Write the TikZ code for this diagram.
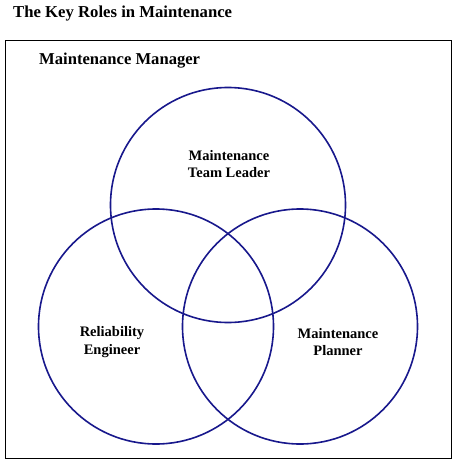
\documentclass[tikz,border=0pt]{standalone}
\usepackage{fontspec}
\setmainfont{Liberation Serif}
\begin{document}
\begin{tikzpicture}[x=1pt,y=-1pt,
  venn/.style={draw={rgb,255:red,24;green,24;blue,140},line width=1.6pt},
  lbl/.style={font=\fontsize{14.5}{17.5}\selectfont\bfseries,align=center,inner sep=0pt}]
\useasboundingbox (0,0) rectangle (456,466);
\fill[white] (0,0) rectangle (456,466);
\node[anchor=west,inner sep=0pt,font=\fontsize{16.7}{19}\selectfont\bfseries] (title) at (13,14) {The Key Roles in Maintenance};
\draw[line width=0.9pt] (5.5,40.5) rectangle (451,458);
\node[anchor=west,inner sep=0pt,font=\fontsize{16.6}{19}\selectfont\bfseries] (mgr) at (39,61) {Maintenance Manager};
\draw[venn] (228,205) circle (117.5);
\draw[venn] (156,326.5) circle (117.5);
\draw[venn] (300,326.5) circle (117.5);
\node[lbl] (tl) at (229,164) {Maintenance\\Team Leader};
\node[lbl] (re) at (112,342) {Reliability\\Engineer};
\node[lbl] (mp) at (338,342) {Maintenance\\Planner};
\end{tikzpicture}
\end{document}
